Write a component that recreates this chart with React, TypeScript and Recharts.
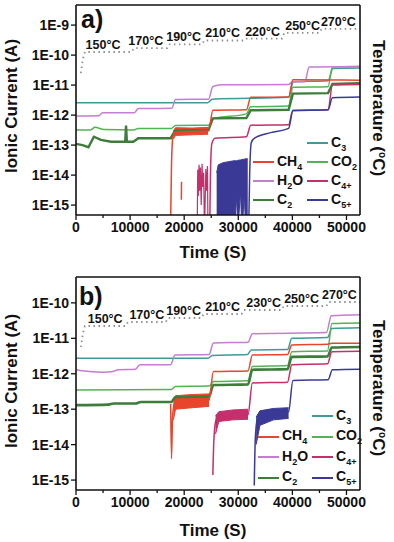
import React from 'react';
import { ComposedChart, Line, Area, XAxis, YAxis, ReferenceDot } from 'recharts';

type Pt = [number, number];
type Band = [number, number, number];

const timeTicks = [0, 5000, 10000, 15000, 20000, 25000, 30000, 35000, 40000, 45000, 50000];
const ionTicksA = [1e-15, 1e-14, 1e-13, 1e-12, 1e-11, 1e-10, 1e-9];
const ionTicksB = [1e-15, 1e-14, 1e-13, 1e-12, 1e-11, 1e-10];

const tempLabelsA = ['150°C', '170°C', '190°C', '210°C', '220°C', '250°C', '270°C'];
const tempLabelTimeA = [5000, 12900, 19900, 27100, 34500, 41900, 48500];
const tempLevelsA = [150, 170, 190, 210, 220, 250, 270];
const tempLabelsB = ['150°C', '170°C', '190°C', '210°C', '230°C', '250°C', '270°C'];
const tempLabelTimeB = [5400, 13100, 19900, 27100, 34700, 41700, 48700];
const tempLevelsB = [150, 170, 190, 210, 230, 250, 270];

// ---- panel a ----
const aTemp: Pt[] = [[900, 40], [1250, 110], [1650, 150], [10300, 150], [10700, 170], [16900, 170], [17300, 190], [23300, 190], [23700, 210], [31000, 210], [31400, 220], [38100, 220], [38500, 250], [45000, 250], [45400, 270], [52500, 270]];
const aC3: Pt[] = [[0, 2.6e-12], [24300, 2.6e-12], [25200, 3.4e-12], [39300, 3.9e-12], [40200, 1.3e-11], [46600, 1.4e-11], [47500, 3.6e-11], [52500, 3.7e-11]];
const aH2O: Pt[] = [[0, 9.3e-13], [4200, 9.5e-13], [4900, 1.2e-12], [10800, 1.2e-12], [11500, 1.65e-12], [17700, 1.7e-12], [18400, 3.3e-12], [24500, 3.4e-12], [25300, 9e-12], [27000, 1.02e-11], [39300, 1.05e-11], [40000, 1.3e-11], [42300, 1.3e-11], [43100, 4.0e-11], [52500, 4.2e-11]];
const aCO2: Pt[] = [[0, 3.2e-13], [2700, 3.2e-13], [3500, 3.9e-13], [5200, 3.3e-13], [10700, 3.2e-13], [11500, 3.6e-13], [17600, 3.6e-13], [18400, 4.5e-13], [24500, 4.6e-13], [25300, 7.5e-13], [31500, 1.1e-12], [32300, 1.9e-12], [39300, 2.0e-12], [40100, 8.5e-12], [46600, 8.8e-12], [47400, 4.1e-11], [52500, 4.2e-11]];
const aC2: Pt[] = [[0, 1.1e-13], [1200, 1.0e-13], [2300, 8.5e-14], [3300, 1.9e-13], [4600, 1.5e-13], [6500, 1.3e-13], [9100, 1.3e-13], [9250, 4.5e-13], [9400, 1.3e-13], [10600, 1.3e-13], [11500, 1.7e-13], [17500, 1.7e-13], [18300, 3.0e-13], [24500, 3.2e-13], [25300, 7.8e-13], [31500, 8e-13], [32300, 1.45e-12], [39300, 1.5e-12], [40100, 5.2e-12], [46600, 5.4e-12], [47400, 1.1e-11], [52500, 1.15e-11]];
const aCH4: Pt[] = [[17450, 1e-16], [17650, 2e-14], [17900, 1.8e-13], [18300, 2.7e-13], [24500, 3.0e-13], [25300, 1.45e-12], [31500, 1.5e-12], [32300, 3.9e-12], [39300, 4.0e-12], [40100, 1.5e-11], [52500, 1.45e-11]];
const aCH4Stub: Pt[] = [[19480, 1.5e-15], [19500, 6e-15]];
const aCH4Band: Band[] = [[18000, 1.6e-13, 3.0e-13], [18400, 2.1e-13, 3.8e-13], [21500, 2.2e-13, 3.7e-13], [24400, 2.3e-13, 3.9e-13]];
const aC4Spikes: Pt[] = [[22400, 1e-16], [22500, 1.5e-14], [22600, 2e-15], [22750, 2.2e-14], [22850, 3e-15], [23000, 1.8e-14], [23150, 1e-15], [23300, 2.4e-14], [23450, 4e-15], [23600, 1.2e-14], [23750, 1e-16], [24000, 1.6e-14], [24150, 3e-15], [24300, 2e-14], [24400, 1e-16]];
const aC4: Pt[] = [[24700, 1e-16], [24850, 1e-14], [25100, 1.1e-13], [25700, 1.7e-13], [31500, 1.9e-13], [32300, 4.6e-13], [39300, 4.8e-13], [40100, 1.45e-12], [46600, 1.5e-12], [47400, 1e-11], [52500, 1.05e-11]];
const aC5: Pt[] = [[31900, 1e-16], [32100, 1e-14], [32400, 1.2e-13], [33000, 1.7e-13], [36000, 2.6e-13], [39300, 3.6e-13], [40100, 1.4e-12], [46600, 1.5e-12], [47400, 3.8e-12], [52500, 4e-12]];
const aC5Band: Band[] = [[26000, 1e-16, 1.2e-14], [26300, 1e-16, 2.2e-14], [27200, 1e-16, 2.6e-14], [28200, 1e-16, 2.8e-14], [29200, 1e-16, 3e-14], [29700, 2e-15, 3e-14], [29900, 1e-16, 3.1e-14], [30400, 3e-15, 3.2e-14], [30700, 1e-16, 3.3e-14], [31100, 2.5e-15, 3.4e-14], [31400, 1e-16, 3.5e-14], [31750, 1e-16, 3.5e-14]];

// ---- panel b ----
const bTemp: Pt[] = [[900, 45], [1250, 110], [1650, 150], [9200, 150], [9600, 170], [16600, 170], [17000, 190], [23200, 190], [23600, 210], [30600, 210], [31000, 230], [38000, 230], [38400, 250], [46300, 250], [46700, 270], [52500, 270]];
const bC3: Pt[] = [[0, 2.75e-12], [24400, 2.75e-12], [25200, 3.3e-12], [31700, 3.5e-12], [32400, 4.7e-12], [39100, 4.8e-12], [39900, 1e-11], [46500, 1.05e-11], [47300, 1.9e-11], [52500, 2e-11]];
const bH2O: Pt[] = [[0, 1.3e-12], [2500, 1.15e-12], [5000, 1.1e-12], [6800, 1.15e-12], [7800, 1.3e-12], [11000, 1.35e-12], [11800, 1.8e-12], [17500, 1.8e-12], [18300, 3.4e-12], [24600, 3.5e-12], [25400, 7.4e-12], [31800, 7.8e-12], [32600, 1.35e-11], [46300, 1.45e-11], [47200, 4.3e-11], [52500, 4.6e-11]];
const bCO2: Pt[] = [[0, 3.5e-13], [17600, 3.6e-13], [18400, 4.4e-13], [24600, 4.5e-13], [25400, 6e-13], [31800, 6.3e-13], [32600, 1.6e-12], [39100, 1.7e-12], [39900, 4.2e-12], [46500, 4.4e-12], [47300, 2.6e-11], [52500, 2.7e-11]];
const bC2: Pt[] = [[0, 1.3e-13], [6000, 1.35e-13], [7000, 1.45e-13], [11000, 1.45e-13], [12000, 1.6e-13], [17600, 1.6e-13], [18400, 2.2e-13], [24600, 2.3e-13], [25400, 4.8e-13], [31800, 5e-13], [32600, 1.3e-12], [39100, 1.35e-12], [39900, 3e-12], [46500, 3.1e-12], [47300, 5.5e-12], [52500, 5.7e-12]];
const bCH4: Pt[] = [[17500, 1.4e-13], [17650, 4e-15], [17850, 6e-14], [18200, 1.5e-13], [24600, 1.8e-13], [25400, 1.15e-12], [31800, 1.2e-12], [32600, 3.4e-12], [39100, 3.5e-12], [39900, 6.5e-12], [46500, 6.8e-12], [47300, 7.2e-12], [52500, 7.3e-12]];
const bCH4Band: Band[] = [[18000, 5e-14, 1.8e-13], [18400, 1.0e-13, 2.4e-13], [21500, 1.1e-13, 2.6e-13], [24600, 1.2e-13, 2.7e-13]];
const bC4: Pt[] = [[25300, 1.4e-15], [25500, 1.5e-14], [25900, 5e-14], [26500, 6.2e-14], [31800, 7e-14], [32600, 5.5e-13], [39100, 5.8e-13], [39900, 1.8e-12], [46500, 1.9e-12], [47300, 4.2e-12], [52500, 4.3e-12]];
const bC4Band: Band[] = [[25800, 2e-14, 6.5e-14], [26400, 4.5e-14, 8.5e-14], [29000, 5e-14, 9.5e-14], [31800, 5.2e-14, 1e-13]];
const bC5: Pt[] = [[32950, 7e-16], [33150, 1.5e-14], [33500, 5e-14], [34200, 7e-14], [39300, 8.5e-14], [40100, 6.5e-13], [46600, 6.8e-13], [47400, 1.3e-12], [52500, 1.35e-12]];
const bC5Band: Band[] = [[33300, 1e-14, 6e-14], [34000, 3.5e-14, 9e-14], [36500, 5e-14, 1.05e-13], [39300, 5.5e-14, 1.1e-13]];

const COL = {
  C3: '#3f9a98',
  CH4: '#e8452c',
  CO2: '#52b356',
  H2O: '#c47dd0',
  C4: '#c42f6c',
  C2: '#3d7c3b',
  C5: '#3a3a96',
  temp: '#8f8f8f',
};

const FONT = '"Liberation Sans", Arial, Helvetica, sans-serif';

const rows = (pts: Pt[]) => pts.map(([t, v]) => ({ t, v }));
const bandRows = (pts: Band[]) => pts.map(([t, lo, hi]) => ({ t, r: [lo, hi] }));

const XTick = (p: any) => {
  const { x, y, payload } = p;
  const major = payload.value % 10000 === 0;
  return (
    <g>
      <line x1={x} x2={x} y1={y} y2={y + (major ? 5 : 3)} stroke="#111" strokeWidth={1.3} />
      {major && (
        <text x={x} y={y + 7} dy="0.71em" textAnchor="middle" fill="#111" fontSize={14} fontWeight={700} fontFamily={FONT}>
          {payload.value}
        </text>
      )}
    </g>
  );
};

const YTick = (p: any) => {
  const { x, y, payload } = p;
  const e = Math.round(Math.log10(payload.value));
  return (
    <g>
      <line x1={x - 5} x2={x} y1={y} y2={y} stroke="#111" strokeWidth={1.3} />
      <text x={x - 7} y={y} dy="0.35em" textAnchor="end" fill="#111" fontSize={14} fontWeight={700} fontFamily={FONT}>
        {`1E${e}`}
      </text>
    </g>
  );
};

interface PanelProps {
  height: number;
  marginTop: number;
  xAxisHeight: number;
  yDomain: [number, number];
  yTicks: number[];
  tempDomain: [number, number];
  temp: Pt[];
  labels: string[];
  labelT: number[];
  levels: number[];
  lines: { data: Pt[]; color: string; width?: number; type?: 'monotone' | 'linear' }[];
  bands: { data: Band[]; color: string }[];
}

function Panel(props: PanelProps) {
  const axisLine = { stroke: '#111', strokeWidth: 1.6 };
  return (
    <ComposedChart width={394} height={props.height} margin={{ top: props.marginTop, right: 0, bottom: 0, left: 0 }}>
      <XAxis
        xAxisId="b"
        dataKey="t"
        type="number"
        domain={[0, 52500]}
        ticks={timeTicks}
        interval={0}
        allowDataOverflow
        height={props.xAxisHeight}
        tickLine={false}
        tickSize={0}
        tickMargin={0}
        axisLine={axisLine}
        tick={<XTick />}
      />
      <XAxis xAxisId="top" orientation="top" type="number" domain={[0, 52500]} height={1} tick={false} tickLine={false} axisLine={axisLine} />
      <YAxis
        yAxisId="ion"
        scale="log"
        type="number"
        domain={props.yDomain}
        allowDataOverflow
        ticks={props.yTicks}
        interval={0}
        width={76}
        tickLine={false}
        tickSize={0}
        tickMargin={0}
        axisLine={axisLine}
        tick={<YTick />}
      />
      <YAxis yAxisId="temp" orientation="right" type="number" domain={props.tempDomain} allowDataOverflow width={34} tick={false} tickLine={false} axisLine={axisLine} />
      <Line
        xAxisId="b"
        yAxisId="temp"
        data={rows(props.temp)}
        dataKey="v"
        type="linear"
        stroke={COL.temp}
        strokeWidth={1.8}
        strokeDasharray="1.5 3.5"
        dot={false}
        isAnimationActive={false}
      />
      {props.bands.map((b, i) => (
        <Area
          key={'b' + i}
          xAxisId="b"
          yAxisId="ion"
          data={bandRows(b.data)}
          dataKey="r"
          type="linear"
          stroke={b.color}
          strokeWidth={1}
          fill={b.color}
          fillOpacity={1}
          isAnimationActive={false}
        />
      ))}
      {props.lines.map((l, i) => (
        <Line
          key={'l' + i}
          xAxisId="b"
          yAxisId="ion"
          data={rows(l.data)}
          dataKey="v"
          type={l.type || 'monotone'}
          stroke={l.color}
          strokeWidth={l.width || 1.5}
          dot={false}
          isAnimationActive={false}
        />
      ))}
      {props.labels.map((s, i) => (
        <ReferenceDot
          key={'t' + i}
          xAxisId="b"
          yAxisId="temp"
          x={props.labelT[i]}
          y={props.levels[i]}
          r={0}
          fill="none"
          stroke="none"
          label={{ value: s, position: 'top', offset: 3, fill: '#111', fontSize: 12.5, fontWeight: 700, fontFamily: FONT }}
        />
      ))}
    </ComposedChart>
  );
}

const legendItems = [
  { main: 'C', sub: '3', tail: '', color: COL.C3, row: 0, col: 1 },
  { main: 'CH', sub: '4', tail: '', color: COL.CH4, row: 1, col: 0 },
  { main: 'CO', sub: '2', tail: '', color: COL.CO2, row: 1, col: 1 },
  { main: 'H', sub: '2', tail: 'O', color: COL.H2O, row: 2, col: 0 },
  { main: 'C', sub: '4+', tail: '', color: COL.C4, row: 2, col: 1 },
  { main: 'C', sub: '2', tail: '', color: COL.C2, row: 3, col: 0 },
  { main: 'C', sub: '5+', tail: '', color: COL.C5, row: 3, col: 1 },
];

function Legend({ left, top, rowH }: { left: number; top: number; rowH: number }) {
  return (
    <>
      {legendItems.map((it, i) => (
        <div
          key={i}
          style={{
            position: 'absolute',
            left: left + it.col * 54,
            top: top + it.row * rowH - 9,
            height: 18,
            display: 'flex',
            alignItems: 'center',
            fontFamily: FONT,
            fontWeight: 700,
            fontSize: 14,
            color: '#111',
            whiteSpace: 'nowrap',
          }}
        >
          <div style={{ width: 21, height: 2, background: it.color, marginRight: 3 }} />
          <span>
            {it.main}
            <sub style={{ fontSize: 9 }}>{it.sub}</sub>
            {it.tail}
          </span>
        </div>
      ))}
    </>
  );
}

function VText({ cx, cy, angle, children }: { cx: number; cy: number; angle: number; children: React.ReactNode }) {
  return (
    <div
      style={{
        position: 'absolute',
        left: cx,
        top: cy,
        transform: `translate(-50%, -50%) rotate(${angle}deg)`,
        whiteSpace: 'nowrap',
        fontFamily: FONT,
        fontWeight: 700,
        fontSize: 17,
        color: '#111',
        lineHeight: 1,
      }}
    >
      {children}
    </div>
  );
}

const tempTitle = (
  <span>
    Temperature (<sup style={{ fontSize: 10 }}>o</sup>C)
  </span>
);

export default function App() {
  const linesA = [
    { data: aC3, color: COL.C3 },
    { data: aCO2, color: COL.CO2 },
    { data: aC2, color: COL.C2, width: 2.4, type: 'linear' as const },
    { data: aH2O, color: COL.H2O },
    { data: aCH4, color: COL.CH4 },
    { data: aCH4Stub, color: COL.CH4, type: 'linear' as const },
    { data: aC4Spikes, color: COL.C4, width: 1.2, type: 'linear' as const },
    { data: aC4, color: COL.C4 },
    { data: aC5, color: COL.C5 },
  ];
  const bandsA = [
    { data: aCH4Band, color: COL.CH4 },
    { data: aC5Band, color: COL.C5 },
  ];
  const linesB = [
    { data: bC3, color: COL.C3 },
    { data: bCO2, color: COL.CO2 },
    { data: bC2, color: COL.C2, width: 2.6 },
    { data: bH2O, color: COL.H2O },
    { data: bCH4, color: COL.CH4 },
    { data: bC4, color: COL.C4 },
    { data: bC5, color: COL.C5 },
  ];
  const bandsB = [
    { data: bCH4Band, color: COL.CH4 },
    { data: bC4Band, color: COL.C4 },
    { data: bC5Band, color: COL.C5 },
  ];

  return (
    <div style={{ position: 'absolute', left: 0, top: 0, width: 394, height: 542, background: '#fff', fontFamily: FONT }}>
      <div style={{ position: 'absolute', left: 0, top: 0 }}>
        <Panel
          height={270}
          marginTop={4}
          xAxisHeight={55}
          yDomain={[Math.pow(10, -15.33), Math.pow(10, -8.33)]}
          yTicks={ionTicksA}
          tempDomain={[-700, 395]}
          temp={aTemp}
          labels={tempLabelsA}
          labelT={tempLabelTimeA}
          levels={tempLevelsA}
          lines={linesA}
          bands={bandsA}
        />
      </div>
      <div style={{ position: 'absolute', left: 0, top: 270 }}>
        <Panel
          height={272}
          marginTop={6}
          xAxisHeight={52}
          yDomain={[Math.pow(10, -15.28), Math.pow(10, -9.27)]}
          yTicks={ionTicksB}
          tempDomain={[-670, 395]}
          temp={bTemp}
          labels={tempLabelsB}
          labelT={tempLabelTimeB}
          levels={tempLevelsB}
          lines={linesB}
          bands={bandsB}
        />
      </div>

      <div style={{ position: 'absolute', left: 81, top: 7, fontSize: 25, fontWeight: 700, lineHeight: 1, color: '#111' }}>a)</div>
      <div style={{ position: 'absolute', left: 79, top: 284, fontSize: 25, fontWeight: 700, lineHeight: 1, color: '#111' }}>b)</div>

      <VText cx={11} cy={106} angle={-90}>Ionic Current (A)</VText>
      <VText cx={11} cy={381} angle={-90}>Ionic Current (A)</VText>
      <VText cx={379} cy={108} angle={90}>{tempTitle}</VText>
      <VText cx={379} cy={388} angle={90}>{tempTitle}</VText>
      <VText cx={213} cy={252} angle={0}>Time (S)</VText>
      <VText cx={213} cy={530} angle={0}>Time (S)</VText>

      <Legend left={253} top={143} rowH={19} />
      <Legend left={258} top={416} rowH={20.5} />
    </div>
  );
}
